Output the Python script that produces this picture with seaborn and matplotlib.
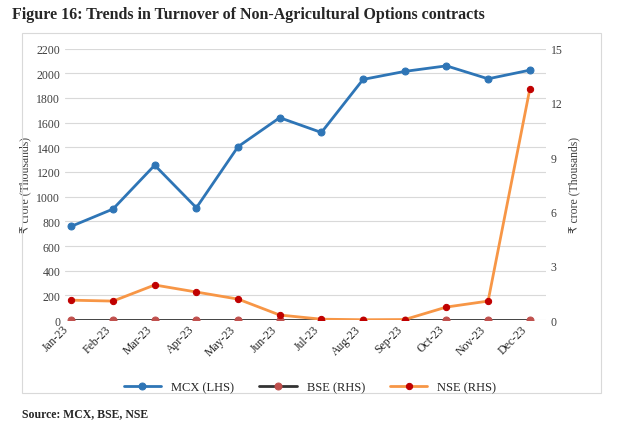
import matplotlib
matplotlib.use("Agg")
import matplotlib.pyplot as plt
import seaborn as sns
import pandas as pd
from matplotlib.patches import Rectangle

# data
MONTHS = ["Jan-23", "Feb-23", "Mar-23", "Apr-23", "May-23", "Jun-23",
          "Jul-23", "Aug-23", "Sep-23", "Oct-23", "Nov-23", "Dec-23"]
MCX = [760, 900, 1255, 910, 1405, 1640, 1520, 1950, 2015, 2060, 1955, 2025]
BSE = [0, 0, 0, 0, 0, 0, 0, 0, 0, 0, 0, 0]
NSE = [1.1, 1.05, 1.94, 1.55, 1.16, 0.28, 0.05, 0.02, 0.03, 0.72, 1.05, 12.75]

sns.set_theme(style="white")
plt.rcParams["font.family"] = ["Liberation Serif", "DejaVu Sans"]

df = pd.DataFrame({"month": MONTHS, "MCX": MCX, "BSE": BSE, "NSE": NSE})
df["x"] = range(len(MONTHS))

fig = plt.figure(figsize=(6.2, 4.31), dpi=100)
ax = fig.add_axes([0.105, 0.255, 0.775, 0.63])
ax2 = ax.twinx()

blue, red = "#2E75B6", "#C0504D"
sns.lineplot(data=df, x="x", y="MCX", ax=ax, color=blue, lw=2, marker="o",
             markersize=5, markeredgecolor=blue, label="MCX (LHS)", legend=False)
sns.lineplot(data=df, x="x", y="BSE", ax=ax2, color="#333333", lw=2, marker="o",
             markersize=5, markerfacecolor=red, markeredgecolor=red,
             label="BSE (RHS)", legend=False)
sns.lineplot(data=df, x="x", y="NSE", ax=ax2, color="#F79646", lw=2, marker="o",
             markersize=4.5, markerfacecolor="#C00000", markeredgecolor="#C00000",
             label="NSE (RHS)", legend=False)

ax.set_ylim(0, 2200)
ax.set_yticks(range(0, 2201, 200))
ax2.set_ylim(0, 15)
ax2.set_yticks([0, 3, 6, 9, 12, 15])
ax.set_xlim(-0.15, 11.38)
ax.set_xticks(df["x"])
ax.set_xticklabels(MONTHS, rotation=45, ha="right", fontsize=8.5)
ax.grid(axis="y", color="#D9D9D9", lw=0.8)
for a in (ax, ax2):
    for s in a.spines.values():
        s.set_visible(False)
    a.tick_params(axis="y", labelsize=8.5, length=0, colors="#404040")
ax.tick_params(axis="x", length=0, pad=2)
ax.set_xlabel("")
ax.set_ylabel("₹ crore (Thousands)", fontsize=8.5, color="#404040")
ax2.set_ylabel("₹ crore (Thousands)", fontsize=8.5, color="#404040")

h1, l1 = ax.get_legend_handles_labels()
h2, l2 = ax2.get_legend_handles_labels()
fig.legend(h1 + h2, l1 + l2, loc="lower center", ncol=3, frameon=False,
           fontsize=9, bbox_to_anchor=(0.5, 0.06), handlelength=3)

fig.patches.append(Rectangle((0.035, 0.085), 0.935, 0.835, transform=fig.transFigure,
                             fill=False, edgecolor="#D9D9D9", lw=0.8))
fig.text(0.02, 0.965, "Figure 16: Trends in Turnover of Non-Agricultural Options contracts",
         fontsize=11.5, fontweight="bold", va="center")
fig.text(0.035, 0.04, "Source: MCX, BSE, NSE", fontsize=8.5, fontweight="bold", va="center")

fig.savefig("out.png", dpi=100)
